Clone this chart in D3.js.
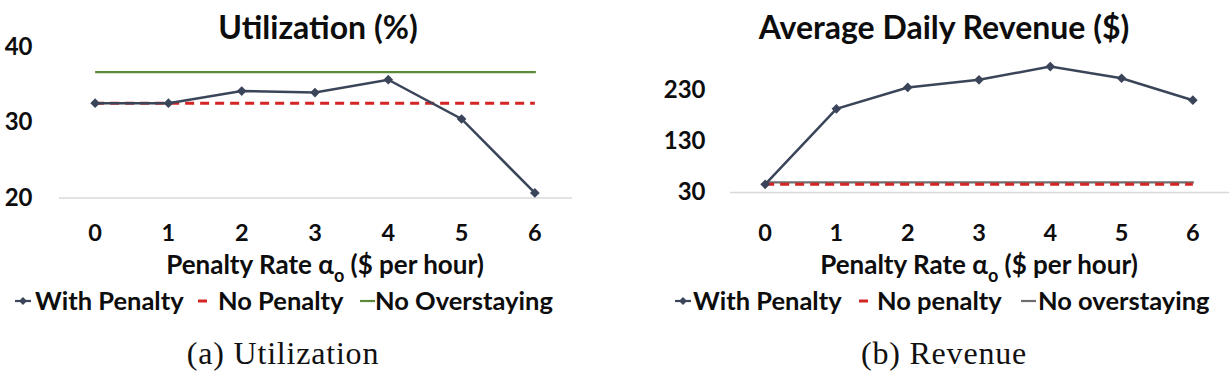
<!DOCTYPE html>
<html><head><meta charset="utf-8">
<script src="https://cdn.jsdelivr.net/npm/d3@7"></script>
<style>
html,body{margin:0;padding:0;background:#fff;}
svg text{font-family:Lato,"Open Sans",sans-serif;font-weight:700;fill:#0d0d0d;}
svg text.cap{font-family:"Liberation Serif",serif;font-weight:400;fill:#111;}
</style></head>
<body><svg id="c" width="1232" height="378"></svg>
<script>
// ---- data ----
const penaltyRates = ["0","1","2","3","4","5","6"];
const utilWithPenalty = [32.5, 32.5, 34.1, 33.9, 35.6, 30.4, 20.6];
const utilNoPenalty = 32.5;
const utilNoOverstay = 36.6;
const utilTicks = [20, 30, 40];
const revWithPenalty = [45, 193, 235, 250, 276, 253, 210];
const revNoPenalty = 45;
const revNoOverstay = 49;
const revTicks = [30, 130, 230];

const C_LINE = "#3b4559", C_RED = "#d42424", C_GREEN = "#5b8a3a", C_GRAY = "#6e6e6e";

const svg = d3.select("#c");

function panel(o){
  const g = svg.append("g");
  const x = d3.scaleBand().domain(penaltyRates).range(o.xr);
  const cx = d => x(d) + x.bandwidth()/2;
  const y = d3.scaleLinear().domain(o.yd).range(o.yr);

  const ax = g.append("g").attr("transform",`translate(0,${o.yr[0]})`)
    .call(d3.axisBottom(x).tickSize(0).tickSizeOuter(0).tickPadding(o.xpad));
  ax.select(".domain").attr("stroke","#d9d9d9").attr("stroke-width",1.3);
  ax.selectAll("text").attr("font-size",23.5).style("font-family","Lato").style("font-weight",700).attr("fill","#0d0d0d");

  const ay = g.append("g").attr("transform",`translate(${o.xr[0]},0)`)
    .call(d3.axisLeft(y).tickValues(o.ticks).tickSize(0).tickPadding(o.ypad));
  ay.select(".domain").remove();
  ay.selectAll("text").attr("font-size",24).style("font-family","Lato").style("font-weight",700).attr("fill","#0d0d0d");

  const x0 = cx(penaltyRates[0]), x1 = cx(penaltyRates[penaltyRates.length-1]);
  g.append("line").attr("x1",x0).attr("x2",x1+1).attr("y1",y(o.over)).attr("y2",y(o.over))
    .attr("stroke",o.overColor).attr("stroke-width",2.2);
  g.append("line").attr("x1",x0).attr("x2",x1).attr("y1",y(o.nop)).attr("y2",y(o.nop))
    .attr("stroke",C_RED).attr("stroke-width",3).attr("stroke-dasharray","9,6");

  const line = d3.line().x((d,i)=>cx(penaltyRates[i])).y(d=>y(d));
  g.append("path").datum(o.vals).attr("d",line).attr("fill","none")
    .attr("stroke",C_LINE).attr("stroke-width",2.5);
  g.selectAll("path.m").data(o.vals).join("path").attr("class","m")
    .attr("d",d3.symbol(d3.symbolDiamond2,60))
    .attr("transform",(d,i)=>`translate(${cx(penaltyRates[i])},${y(d)})`)
    .attr("fill",C_LINE);

  g.append("text").attr("x",o.titleX).attr("y",39).attr("text-anchor","middle")
    .attr("font-size",32).text(o.title);
  const at = g.append("text").attr("x",o.axX).attr("y",273.5).attr("text-anchor","middle").attr("font-size",26);
  at.append("tspan").text("Penalty Rate α");
  at.append("tspan").attr("dy",8).attr("font-size",18).text("o");
  at.append("tspan").attr("dy",-8).text(" ($ per hour)");

  const ly = 301;
  const L = o.leg;
  g.append("line").attr("x1",L[0]-8).attr("x2",L[0]+8).attr("y1",ly).attr("y2",ly).attr("stroke",C_LINE).attr("stroke-width",2.2);
  g.append("path").attr("d",d3.symbol(d3.symbolDiamond2,40)).attr("transform",`translate(${L[0]},${ly})`).attr("fill",C_LINE);
  g.append("text").attr("x",L[1]).attr("y",ly+9).attr("font-size",25.5).text("With Penalty");
  g.append("line").attr("x1",L[2]).attr("x2",L[2]+9).attr("y1",ly).attr("y2",ly).attr("stroke",C_RED).attr("stroke-width",3);
  g.append("text").attr("x",L[3]).attr("y",ly+9).attr("font-size",25.5).text(o.legNames[0]);
  g.append("line").attr("x1",L[4]).attr("x2",L[4]+15).attr("y1",ly).attr("y2",ly).attr("stroke",o.overColor).attr("stroke-width",2.2);
  g.append("text").attr("x",L[5]).attr("y",ly+9).attr("font-size",25.5).text(o.legNames[1]);

  g.append("text").attr("class","cap").attr("x",o.capX).attr("y",364).attr("text-anchor","middle")
    .attr("font-size",32).attr("letter-spacing",0.8).text(o.cap);
}

panel({xr:[58.5,571.5], yd:[20,40], yr:[197.5,46.5], ticks:utilTicks, xpad:26.5, ypad:26,
  vals:utilWithPenalty, nop:utilNoPenalty, over:utilNoOverstay, overColor:C_GREEN,
  title:"Utilization (%)", titleX:318, axX:325, leg:[23,35,198,218,360,375],
  legNames:["No Penalty","No Overstaying"], cap:"(a) Utilization", capX:283});

panel({xr:[729.5,1228.5], yd:[30,330], yr:[192,39], ticks:revTicks, xpad:32, ypad:24,
  vals:revWithPenalty, nop:revNoPenalty, over:revNoOverstay, overColor:C_GRAY,
  title:"Average Daily Revenue ($)", titleX:944, axX:979, leg:[683,693,859,877,1021,1038],
  legNames:["No penalty","No overstaying"], cap:"(b) Revenue", capX:944});
</script></body></html>
